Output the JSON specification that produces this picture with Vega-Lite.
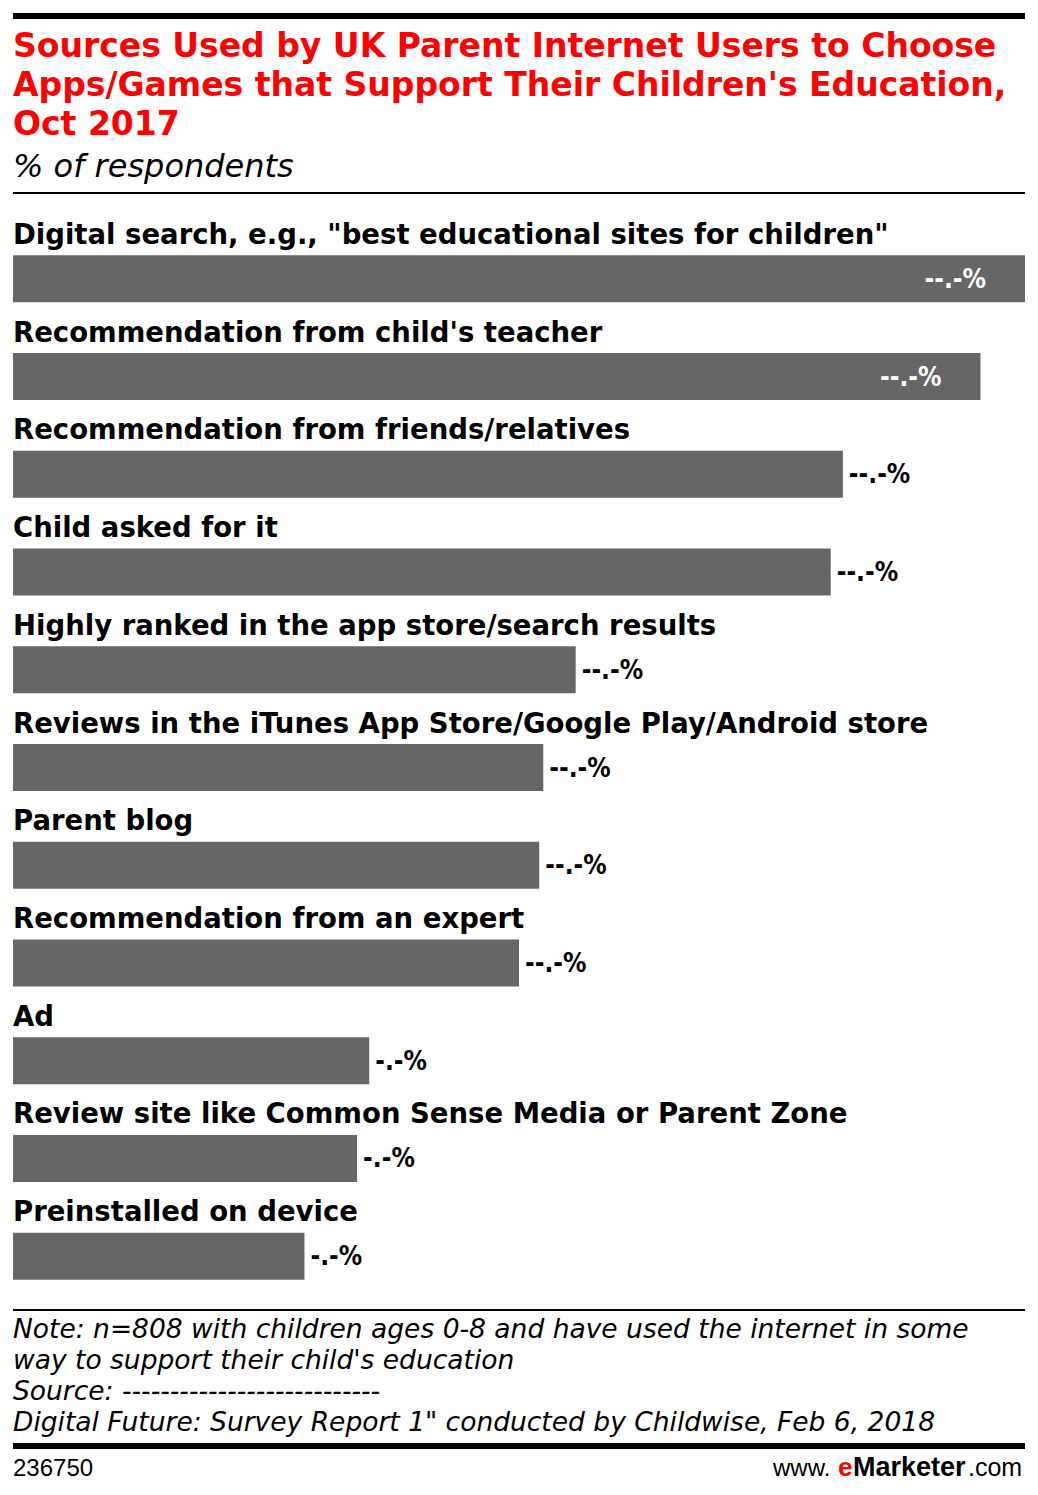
{
  "$schema": "https://vega.github.io/schema/vega-lite/v6.json",
  "description": "Sources used by UK parent internet users to choose apps/games that support their children's education, Oct 2017.",
  "width": 1012,
  "height": 1075,
  "autosize": "none",
  "padding": {"left": 13, "right": 13, "top": 230, "bottom": 190},
  "background": "#ffffff",
  "title": {
    "text": [
      "Sources Used by UK Parent Internet Users to Choose",
      "Apps/Games that Support Their Children's Education,",
      "Oct 2017"
    ],
    "subtitle": "% of respondents",
    "anchor": "start",
    "frame": "group",
    "offset": -170,
    "font": "DejaVu Sans",
    "fontSize": 33,
    "fontWeight": "bold",
    "color": "#ff0000",
    "lineHeight": 39,
    "subtitleFont": "DejaVu Sans",
    "subtitleFontSize": 32,
    "subtitleFontStyle": "italic",
    "subtitleColor": "#000000",
    "subtitlePadding": 10
  },
  "config": {
    "view": {"stroke": null},
    "text": {"font": "DejaVu Sans"}
  },
  "data": {
    "values": [
      {"source": "Digital search, e.g., \"best educational sites for children\"", "value": 25.0, "label": "--.-%"},
      {"source": "Recommendation from child's teacher", "value": 23.9, "label": "--.-%"},
      {"source": "Recommendation from friends/relatives", "value": 20.5, "label": "--.-%"},
      {"source": "Child asked for it", "value": 20.2, "label": "--.-%"},
      {"source": "Highly ranked in the app store/search results", "value": 13.9, "label": "--.-%"},
      {"source": "Reviews in the iTunes App Store/Google Play/Android store", "value": 13.1, "label": "--.-%"},
      {"source": "Parent blog", "value": 13.0, "label": "--.-%"},
      {"source": "Recommendation from an expert", "value": 12.5, "label": "--.-%"},
      {"source": "Ad", "value": 8.8, "label": "-.-%"},
      {"source": "Review site like Common Sense Media or Parent Zone", "value": 8.5, "label": "-.-%"},
      {"source": "Preinstalled on device", "value": 7.2, "label": "-.-%"}
    ]
  },
  "encoding": {
    "y": {
      "field": "source",
      "type": "nominal",
      "sort": null,
      "axis": null,
      "scale": {"paddingInner": 0.519, "paddingOuter": 0.2595}
    }
  },
  "layer": [
    {
      "mark": {"type": "bar", "color": "#666666"},
      "encoding": {
        "x": {
          "field": "value",
          "type": "quantitative",
          "axis": null,
          "scale": {"domain": [0, 25], "nice": false}
        }
      }
    },
    {
      "mark": {"type": "text", "align": "left", "baseline": "alphabetic", "dy": -35, "fontSize": 27.5, "fontWeight": "bold", "color": "#000000"},
      "encoding": {
        "x": {"datum": 0, "type": "quantitative"},
        "text": {"field": "source"}
      }
    },
    {
      "transform": [{"filter": "datum.value >= 23"}],
      "mark": {"type": "text", "align": "right", "baseline": "middle", "dx": -39, "dy": 1, "fontSize": 26, "fontWeight": "bold", "font": "Liberation Sans Narrow, DejaVu Sans Condensed", "color": "#ffffff"},
      "encoding": {
        "x": {"field": "value", "type": "quantitative"},
        "text": {"field": "label"}
      }
    },
    {
      "transform": [{"filter": "datum.value < 23"}],
      "mark": {"type": "text", "align": "left", "baseline": "middle", "dx": 6, "dy": 1, "fontSize": 26, "fontWeight": "bold", "font": "Liberation Sans Narrow, DejaVu Sans Condensed", "color": "#000000"},
      "encoding": {
        "x": {"field": "value", "type": "quantitative"},
        "text": {"field": "label"}
      }
    },
    {
      "data": {"values": [{}]},
      "mark": {"type": "rule", "strokeWidth": 6, "color": "#000000"},
      "encoding": {"x": {"value": 0}, "x2": {"value": 1012}, "y": {"value": -214}}
    },
    {
      "data": {"values": [{}]},
      "mark": {"type": "rule", "strokeWidth": 2, "color": "#000000"},
      "encoding": {"x": {"value": 0}, "x2": {"value": 1012}, "y": {"value": -37}}
    },
    {
      "data": {"values": [{}]},
      "mark": {"type": "rule", "strokeWidth": 2, "color": "#000000"},
      "encoding": {"x": {"value": 0}, "x2": {"value": 1012}, "y": {"value": 1080}}
    },
    {
      "data": {"values": [{}]},
      "mark": {"type": "rule", "strokeWidth": 6, "color": "#000000"},
      "encoding": {"x": {"value": 0}, "x2": {"value": 1012}, "y": {"value": 1216}}
    },
    {
      "data": {"values": [{}]},
      "mark": {"type": "text", "align": "left", "baseline": "alphabetic", "fontSize": 26.5, "fontStyle": "italic", "lineHeight": 31, "color": "#000000"},
      "encoding": {
        "x": {"value": 0},
        "y": {"value": 1108},
        "text": {"value": [
          "Note: n=808 with children ages 0-8 and have used the internet in some",
          "way to support their child's education",
          "Source: ---------------------------",
          "Digital Future: Survey Report 1\" conducted by Childwise, Feb 6, 2018"
        ]}
      }
    },
    {
      "data": {"values": [{}]},
      "mark": {"type": "text", "align": "left", "baseline": "alphabetic", "font": "Liberation Sans", "fontSize": 24, "color": "#000000"},
      "encoding": {"x": {"value": 0}, "y": {"value": 1246}, "text": {"value": "236750"}}
    },
    {
      "data": {"values": [{}]},
      "mark": {"type": "text", "align": "left", "baseline": "alphabetic", "font": "Liberation Sans", "fontSize": 24, "color": "#000000"},
      "encoding": {"x": {"value": 760}, "y": {"value": 1246}, "text": {"value": "www."}}
    },
    {
      "data": {"values": [{}]},
      "mark": {"type": "text", "align": "left", "baseline": "alphabetic", "font": "Liberation Sans", "fontSize": 26, "fontWeight": "bold", "color": "#ff0000"},
      "encoding": {"x": {"value": 825}, "y": {"value": 1246}, "text": {"value": "e"}}
    },
    {
      "data": {"values": [{}]},
      "mark": {"type": "text", "align": "left", "baseline": "alphabetic", "font": "Liberation Sans", "fontSize": 27, "fontWeight": "bold", "color": "#000000"},
      "encoding": {"x": {"value": 840}, "y": {"value": 1246}, "text": {"value": "Marketer"}}
    },
    {
      "data": {"values": [{}]},
      "mark": {"type": "text", "align": "left", "baseline": "alphabetic", "font": "Liberation Sans", "fontSize": 25, "color": "#000000"},
      "encoding": {"x": {"value": 955}, "y": {"value": 1246}, "text": {"value": ".com"}}
    }
  ]
}
